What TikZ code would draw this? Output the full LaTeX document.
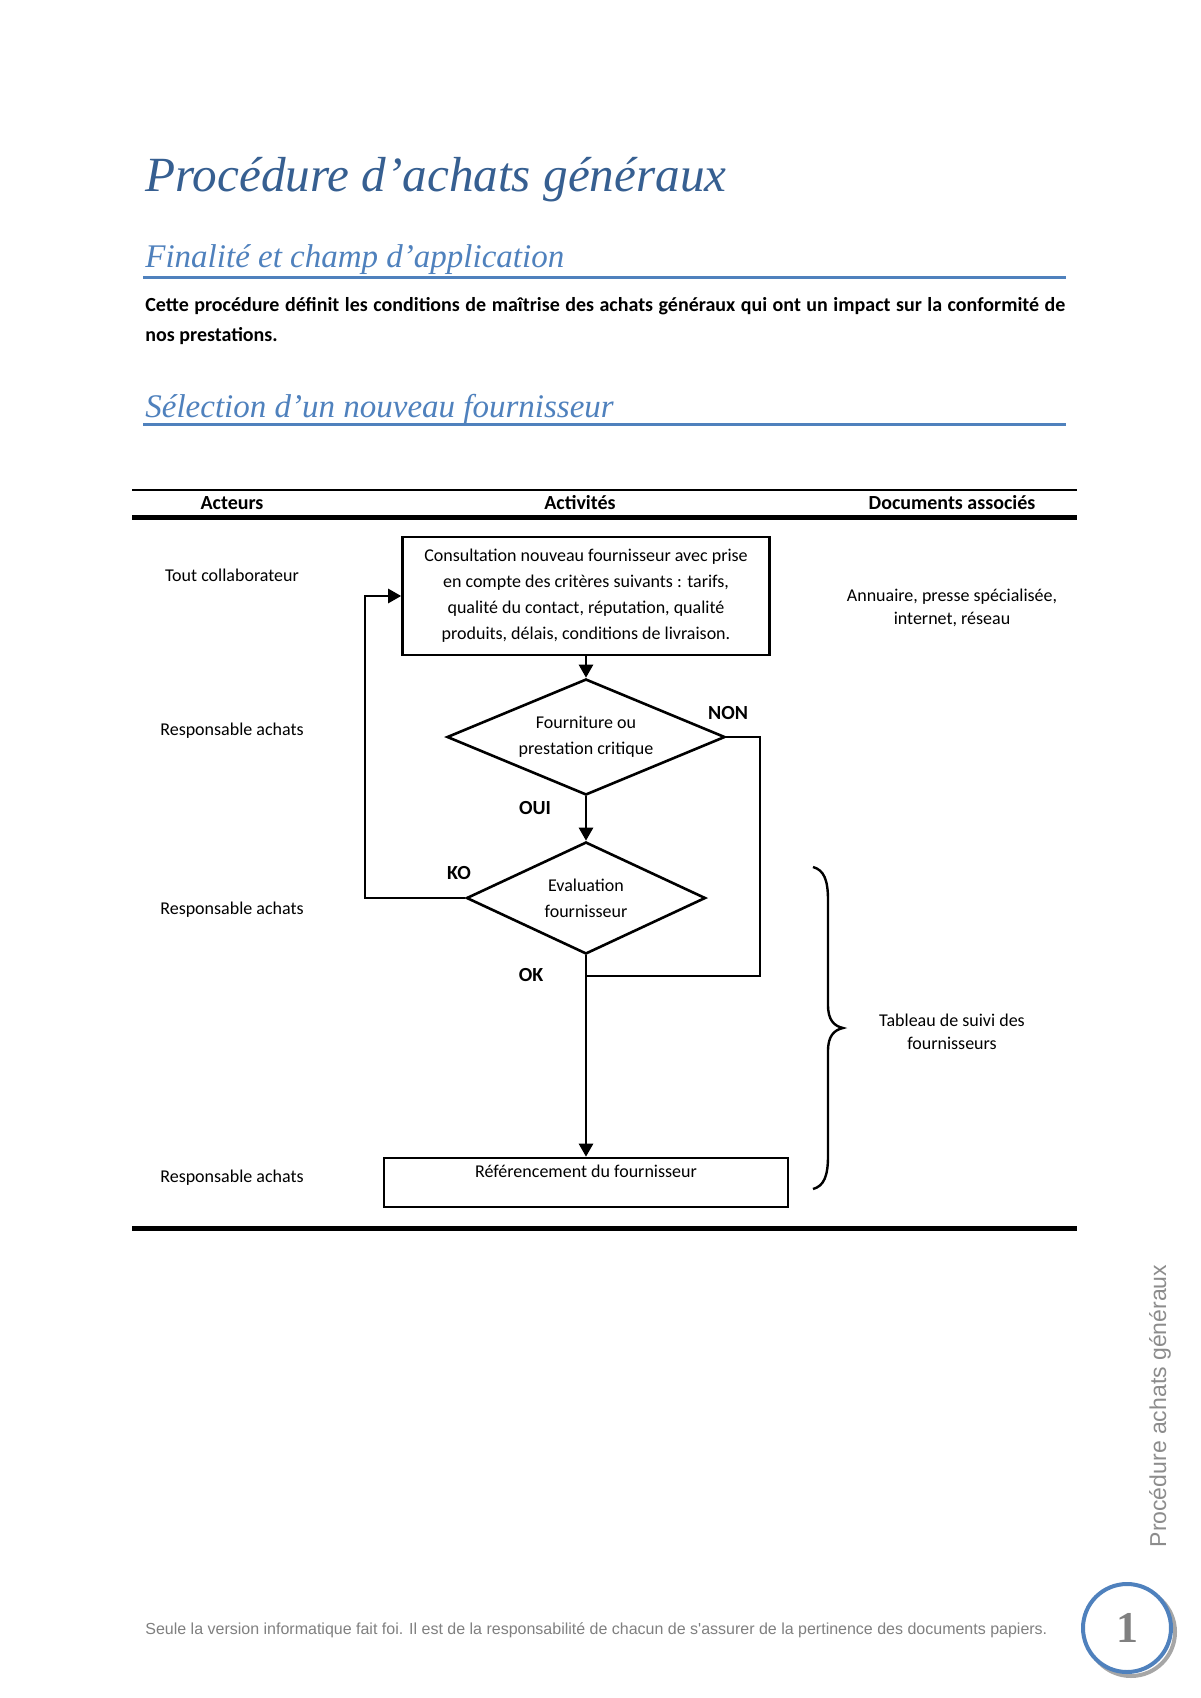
\documentclass[tikz,border=0pt]{standalone}
\usepackage{fontspec}
\setmainfont{Carlito}
\newfontfamily\headfont{Liberation Serif}
\newfontfamily\sidefont{Liberation Sans}
\usetikzlibrary{arrows.meta,shapes.geometric}
\definecolor{titleblue}{HTML}{365F91}
\definecolor{headblue}{HTML}{4F81BD}
\definecolor{footgray}{HTML}{808080}
\definecolor{sidegray}{HTML}{8C8C8C}
\tikzset{
  txt/.style={font=\fontsize{9}{13}\selectfont, inner sep=0pt, align=center},
  doc/.style={font=\fontsize{9}{11.3}\selectfont, inner sep=0pt, align=center},
  hdr/.style={font=\bfseries\fontsize{10}{12}\selectfont, inner sep=0pt},
  lab/.style={font=\bfseries\fontsize{10}{12}\selectfont, inner sep=0pt},
  stepbox/.style={draw, line width=1.3pt, rectangle, inner sep=0pt},
  decision/.style={draw, line width=1.3pt, diamond, aspect=2.4, inner sep=0pt, align=center, font=\fontsize{9}{13}\selectfont},
  arr/.style={-{Triangle[length=6.5pt,width=7pt]}, line width=1.3pt},
  conn/.style={line width=1.3pt},
  headline/.style={draw=headblue, line width=1.5pt},
  heading/.style={font=\headfont\itshape\fontsize{16.5}{20}\selectfont, text=headblue, inner sep=0pt, anchor=base west},
}
\begin{document}
\begin{tikzpicture}[x=0.5pt,y=-0.5pt]
\useasboundingbox[fill=white] (0,0) rectangle (1200,1698);

% Titles
\node[font=\headfont\itshape\fontsize{24.6}{28}\selectfont, text=titleblue, inner sep=0pt, anchor=base west] (title) at (145,191) {Procédure d’achats généraux};
\node[heading] (h1) at (145,267) {Finalité et champ d’application};
\draw[headline] (143,277) -- (1066,277);
\node[font=\bfseries\fontsize{10}{15}\selectfont, inner sep=0pt, anchor=base west] (body1) at (145,311) {\makebox[460pt][s]{Cette procédure définit les conditions de maîtrise des achats généraux qui ont un impact sur la conformité de}};
\node[font=\bfseries\fontsize{10}{15}\selectfont, inner sep=0pt, anchor=base west] (body2) at (145,341) {nos prestations.};
\node[heading] (h2) at (145,417) {Sélection d’un nouveau fournisseur};
\draw[headline] (143,424) -- (1066,424);

% Table frame
\draw[line width=1.2pt] (132,490) -- (1077,490);
\draw[line width=2.5pt] (132,517) -- (1077,517);
\draw[line width=2.5pt] (132,1228) -- (1077,1228);
\node[hdr] (hact) at (232,503) {Acteurs};
\node[hdr] (hactiv) at (580,503) {Activités};
\node[hdr] (hdoc) at (952,503) {Documents associés};

% Actors
\node[txt] (a1) at (232,575) {Tout collaborateur};
\node[txt] (a2) at (232,731) {Responsable achats};
\node[txt] (a3) at (232,910) {Responsable achats};
\node[txt] (a4) at (232,1178) {Responsable achats};

% Documents
\node[doc] (doc1) at (952,608) {Annuaire, presse spécialisée,\\internet, réseau};
\node[doc] (doc2) at (952,1032) {Tableau de suivi des\\fournisseurs};

% Flow
\node[stepbox, txt, minimum width=183.5pt, minimum height=59pt] (b1) at (586,596)
  {Consultation nouveau fournisseur avec prise\\en compte des critères suivants : tarifs,\\qualité du contact, réputation, qualité\\produits, délais, conditions de livraison.};
\node[decision, minimum width=139pt, minimum height=58pt] (d1) at (586,737) {Fourniture ou\\prestation critique};
\node[decision, minimum width=119.5pt, minimum height=56pt] (d2) at (586,898) {Evaluation\\fournisseur};
\node[stepbox, minimum width=202pt, minimum height=24.5pt] (b2) at (586,1182.5) {};
\node[txt, anchor=north] (b2t) at ([yshift=-4pt]b2.north) {Référencement du fournisseur};

\coordinate (nonturn) at (760,976);
\coordinate (okjoin) at (586,976);
\coordinate (kobottom) at (365,898);

\draw[arr] (b1.south) -- (d1.north);
\draw[arr] (d1.south) -- (d2.north);
\draw[arr] (d2.south) -- (b2.north);
\draw[conn] (d1.east) -| (nonturn) -- (okjoin);
\draw[arr] (d2.west) -- (kobottom) |- (b1.west);

\node[lab] (lnon) at (728,713) {NON};
\node[lab] (loui) at (535,808) {OUI};
\node[lab] (lko) at (459,873) {KO};
\node[lab] (lok) at (531,975) {OK};

% Brace
\draw[line width=1.2pt] (813,867) .. controls (824,870) and (828,880) .. (828,900)
  -- (828,1005) .. controls (828,1020) and (834,1026) .. (843,1028)
  .. controls (834,1030) and (828,1036) .. (828,1051)
  -- (828,1156) .. controls (828,1176) and (824,1186) .. (813,1189);

% Side text
\node[font=\sidefont\fontsize{11.5}{13}\selectfont, text=sidegray, rotate=90, inner sep=0pt] (side) at (1160,1406) {Procédure achats généraux};

% Footer
\node[font=\sidefont\fontsize{8}{9}\selectfont, text=footgray, inner sep=0pt, anchor=base west] (foot) at (145,1634) {Seule la version informatique fait foi. Il est de la responsabilité de chacun de s'assurer de la pertinence des documents papiers.};

% Page number circle
\draw[line width=2pt, draw=gray!70] (1131,1632) circle[radius=22pt];
\draw[line width=2pt, draw=headblue, fill=white] (1127,1628) circle[radius=22pt];
\node[font=\headfont\bfseries\fontsize{22}{24}\selectfont, text=gray, inner sep=0pt] (pnum) at (1127,1628) {1};
\end{tikzpicture}
\end{document}
